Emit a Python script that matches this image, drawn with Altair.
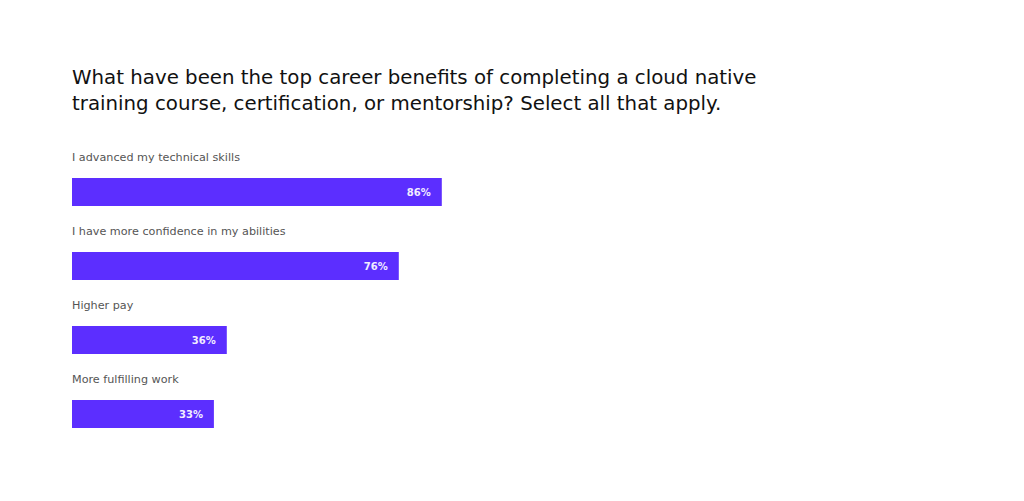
import altair as alt
import pandas as pd

# Survey answers and share of respondents (%)
benefits = [
    "I advanced my technical skills",
    "I have more confidence in my abilities",
    "Higher pay",
    "More fulfilling work",
]
shares = [86, 76, 36, 33]

title_lines = [
    "What have been the top career benefits of completing a cloud native",
    "training course, certification, or mentorship? Select all that apply.",
]

df = pd.DataFrame({"benefit": benefits, "share": shares})
df["label"] = df["share"].astype(str) + "%"

FONT = "DejaVu Sans"
PURPLE = "#5C2EFF"

y_enc = alt.Y(
    "benefit:N",
    sort=benefits,
    axis=None,
    scale=alt.Scale(paddingInner=0.62, paddingOuter=0),
)
x_scale = alt.Scale(domain=[0, 100])

bars = alt.Chart(df).mark_bar(color=PURPLE, cornerRadius=0).encode(
    x=alt.X("share:Q", scale=x_scale, axis=None),
    y=y_enc,
)

values = alt.Chart(df).mark_text(
    align="right", baseline="middle", dx=-11, dy=1,
    font=FONT, fontSize=10, fontWeight="bold", color="#F1ECFF",
).encode(
    x=alt.X("share:Q", scale=x_scale),
    y=y_enc,
    text="label:N",
)

names = alt.Chart(df).mark_text(
    align="left", baseline="alphabetic", dy=-31,
    font=FONT, fontSize=11.2, color="#555555",
).encode(
    x=alt.value(0),
    y=y_enc,
    text="benefit:N",
)

chart = (
    alt.layer(bars, values, names)
    .properties(
        width=430,
        height=250,
        view=alt.ViewBackground(strokeWidth=0, strokeOpacity=0),
        autosize=alt.AutoSizeParams(type="none"),
        padding={"left": 72, "right": 522, "top": 178, "bottom": 73},
        title=alt.TitleParams(
            text=title_lines,
            anchor="start",
            font=FONT,
            fontSize=19.8,
            fontWeight="normal",
            color="#111111",
            lineHeight=26,
            offset=38,
        ),
    )
    .configure_view(strokeWidth=0, strokeOpacity=0)
    .configure(background="white")
)

chart.save("out.html", embed_options={"renderer": "svg", "actions": False})
